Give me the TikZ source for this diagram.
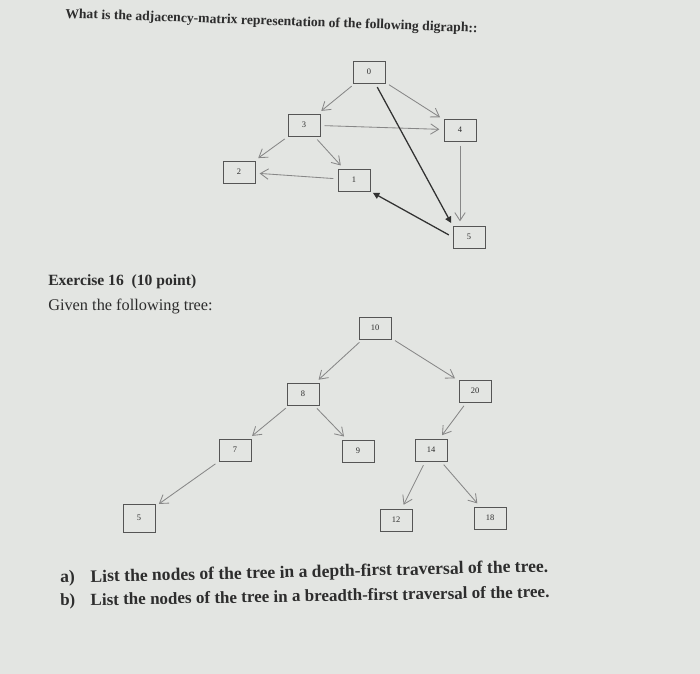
\documentclass[tikz,border=0pt]{standalone}
\usepackage{fontspec}
\setmainfont{Liberation Serif}
\usetikzlibrary{arrows.meta}
\definecolor{paper}{RGB}{227,229,226}
\definecolor{ink}{RGB}{45,45,45}
\definecolor{boxline}{RGB}{85,85,85}
\definecolor{edgeline}{RGB}{135,135,135}
\definecolor{darkline}{RGB}{50,50,50}
\begin{document}
\begin{tikzpicture}[x=0.025cm,y=-0.025cm]
\tikzset{box/.style={draw=boxline,line width=0.6pt,minimum width=0.8cm,minimum height=0.55cm,inner sep=0pt,text=ink,font=\fontsize{6}{7}\selectfont}}
\tikzset{edge/.style={draw=edgeline,line width=0.6pt,-{Straight Barb[length=2mm,width=2.6mm]},shorten >=3pt,shorten <=3pt}}
\tikzset{darkedge/.style={draw=darkline,line width=0.9pt,-{Triangle[length=1.6mm,width=1.6mm]},shorten >=2pt,shorten <=3pt}}
\tikzset{txt/.style={anchor=base west,inner sep=0pt,text=ink}}
\fill[paper] (0,0) rectangle (700,674);
\node[txt,rotate=-2,font=\fontsize{9.7}{11}\selectfont\bfseries] (title) at (65,18) {What is the adjacency-matrix representation of the following digraph::};
\node[box] (g0) at (369,72) {0};
\node[box] (g3) at (304,125) {3};
\node[box] (g4) at (460,130) {4};
\node[box] (g2) at (239,172) {2};
\node[box] (g1) at (354,180) {1};
\node[box] (g5) at (469,237) {5};
\draw[edge] (g0) -- (g3);
\draw[edge] (g0) -- (g4);
\draw[edge] (g3) -- (g4);
\draw[edge] (g3) -- (g2);
\draw[edge] (g3) -- (g1);
\draw[edge] (g1) -- (g2);
\draw[edge] (g4) -- (g4 |- g5.north);
\draw[darkedge] (g0) -- (g5.north west);
\draw[darkedge] (g5.west) -- (g1.south east);
\node[txt,font=\fontsize{11.1}{13}\selectfont\bfseries] (ex) at (48,286) {Exercise 16\ \ (10 point)};
\node[txt,font=\fontsize{11.6}{13}\selectfont] (given) at (48,311) {Given the following tree:};
\node[box] (t10) at (375,328) {10};
\node[box] (t8) at (303,394) {8};
\node[box] (t20) at (475,391) {20};
\node[box] (t7) at (235,450) {7};
\node[box] (t9) at (358,451) {9};
\node[box] (t14) at (431,450) {14};
\node[box,minimum height=0.7cm] (t5) at (139,518) {5};
\node[box] (t12) at (396,520) {12};
\node[box] (t18) at (490,518) {18};
\draw[edge] (t10) -- (t8);
\draw[edge] (t10) -- (t20);
\draw[edge] (t8) -- (t7);
\draw[edge] (t8) -- (t9);
\draw[edge] (t7) -- (t5);
\draw[edge] (t20) -- (t14);
\draw[edge] (t14) -- (t12);
\draw[edge] (t14) -- (t18);
\node[txt,rotate=1.3,font=\fontsize{12.5}{14}\selectfont\bfseries] (qa) at (60,583) {a)\hspace{0.9em}List the nodes of the tree in a depth-first traversal of the tree.};
\node[txt,rotate=1.0,font=\fontsize{12.1}{14}\selectfont\bfseries] (qb) at (60,606) {b)\hspace{0.9em}List the nodes of the tree in a breadth-first traversal of the tree.};
\end{tikzpicture}
\end{document}
